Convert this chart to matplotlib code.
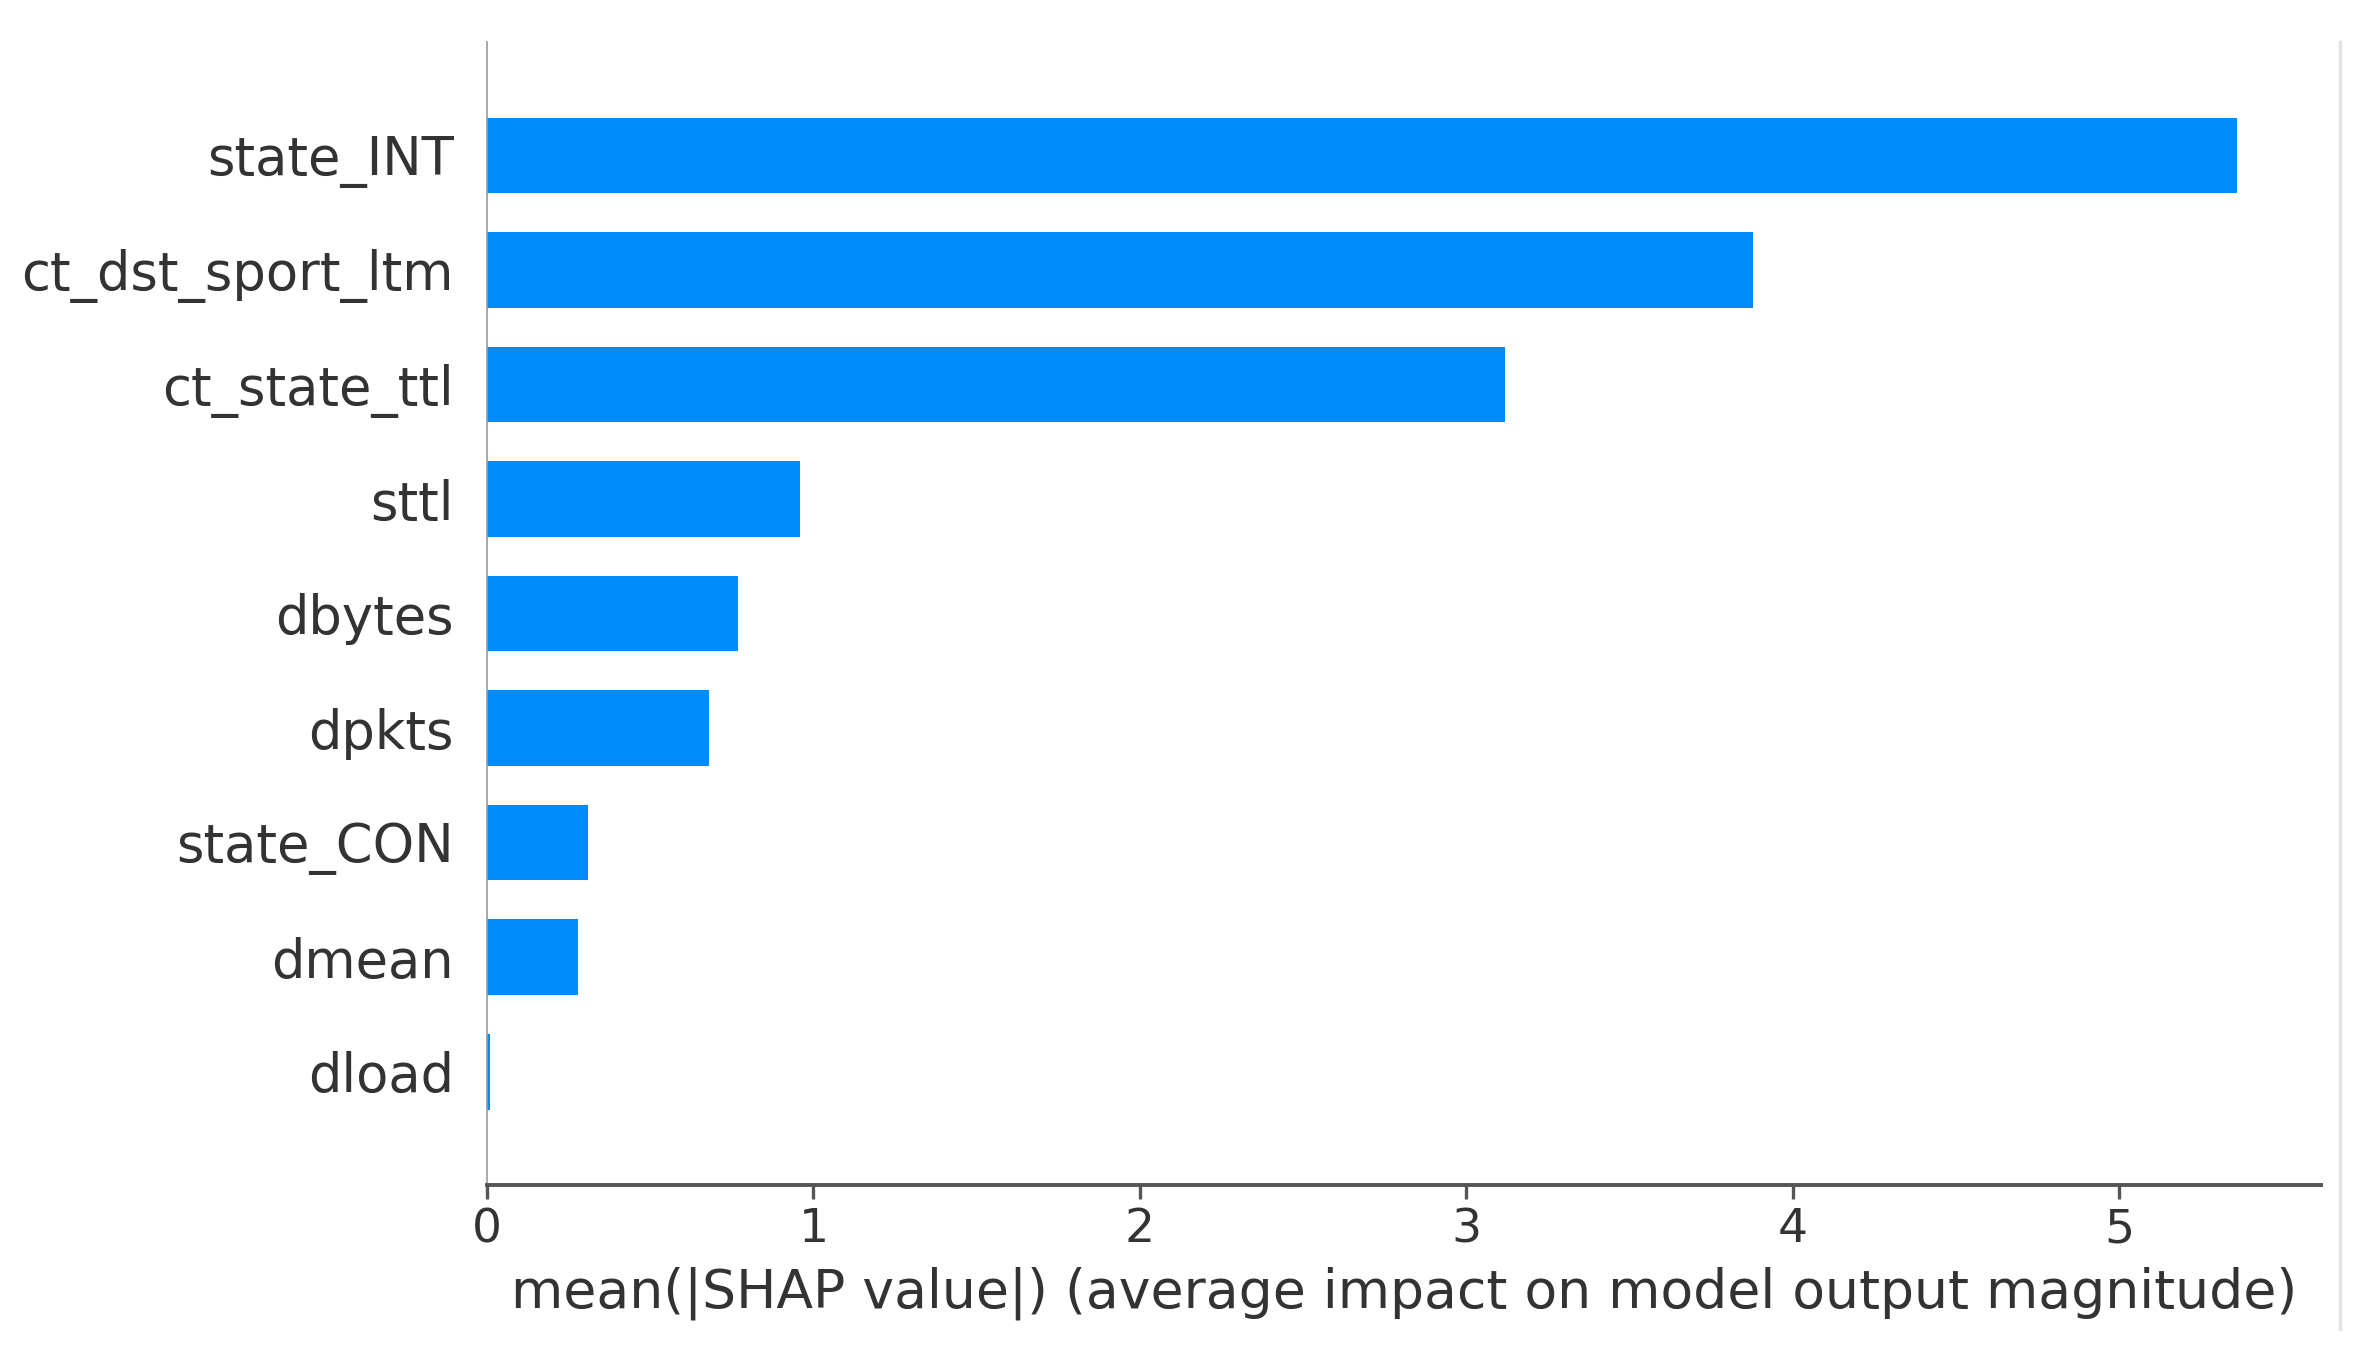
import matplotlib
matplotlib.use("Agg")
import matplotlib.pyplot as plt
from matplotlib.lines import Line2D

# features listed top to bottom, as in the picture
features = ["state_INT", "ct_dst_sport_ltm", "ct_state_ttl", "sttl", "dbytes",
            "dpkts", "state_CON", "dmean", "dload"]
mean_abs_shap = [5.36, 3.88, 3.12, 0.96, 0.77, 0.68, 0.31, 0.28, 0.01]
xticks = [0, 1, 2, 3, 4, 5]
xlabel = "mean(|SHAP value|) (average impact on model output magnitude)"

bar_color = "#008bfb"
text_color = "#333333"

fig = plt.figure(figsize=(11.82, 6.78), dpi=200)
ax = fig.add_axes([0.206, 0.126, 0.776, 0.843])

n = len(features)
ypos = list(range(n - 1, -1, -1))
ax.barh(ypos, mean_abs_shap, height=0.66, color=bar_color, align="center")

ax.set_yticks(ypos)
ax.set_yticklabels(features, fontsize=19, color=text_color)
ax.tick_params(axis="y", length=0, pad=12)

ax.set_xticks(xticks)
ax.set_xticklabels([str(t) for t in xticks], fontsize=17, color=text_color)
ax.tick_params(axis="x", length=5, width=1.2, color="#555555", pad=3)
ax.set_xlim(0, 5.62)
ax.set_ylim(-0.99, n - 1 + 0.99)

ax.set_xlabel(xlabel, fontsize=19.3, color=text_color, labelpad=5)

ax.spines["top"].set_visible(False)
ax.spines["right"].set_visible(False)
ax.spines["left"].set_color("#999999")
ax.spines["left"].set_linewidth(0.6)
ax.spines["bottom"].set_color("#555555")
ax.spines["bottom"].set_linewidth(1.4)

# faint border line at the right edge of the source image
fig.add_artist(Line2D([0.99, 0.99], [0.02, 0.969], transform=fig.transFigure,
                      color="#e2e2e2", lw=1.2))

fig.savefig("out.png", dpi=200, facecolor="white")
